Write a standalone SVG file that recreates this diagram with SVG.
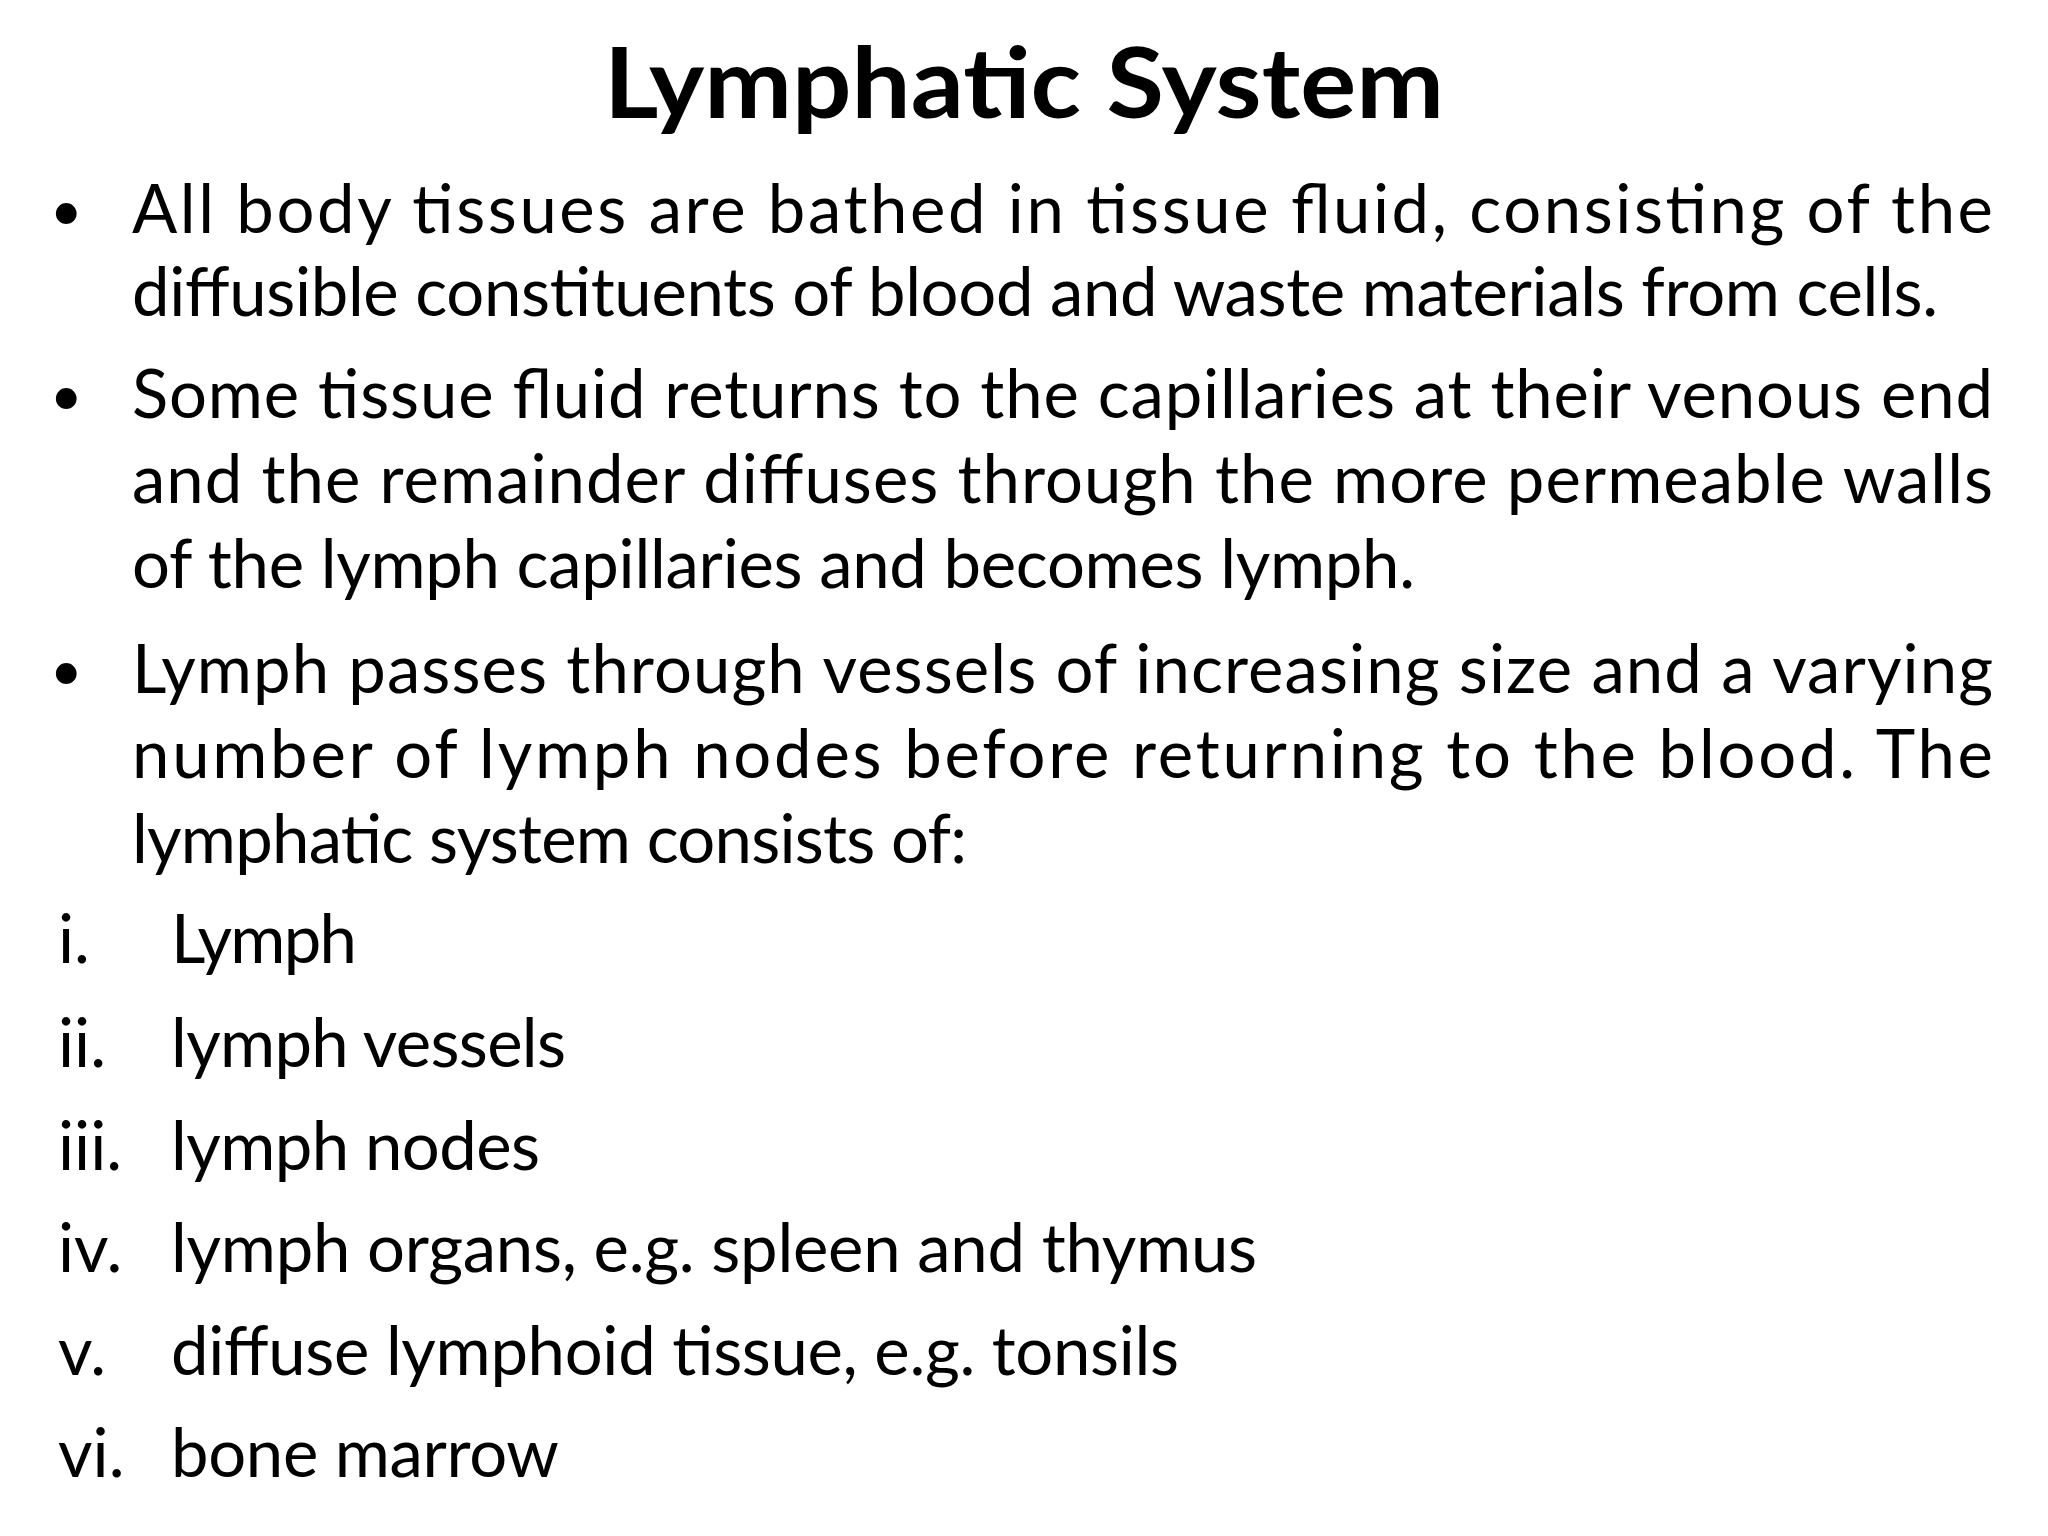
<svg xmlns="http://www.w3.org/2000/svg" width="2048" height="1536" viewBox="0 0 2048 1536">
<style>
text{font-family:Lato,"Open Sans","Liberation Sans",sans-serif;fill:#000}
.b{font-size:67px}
.d{font-size:56px}
.t{font-size:97px;font-weight:bold}
</style>
<rect width="2048" height="1536" fill="#fff"/>
<g id="title"><text class="t" x="604" y="118" textLength="840" lengthAdjust="spacingAndGlyphs">Lymphatic System</text></g>
<g id="bullets">
<text class="d" x="50" y="230">•</text>
<text class="b" x="132" y="233" textLength="1861" lengthAdjust="spacing">All body tissues are bathed in tissue fluid, consisting of the</text>
<text class="b" x="132" y="316" textLength="1806" lengthAdjust="spacing">diffusible constituents of blood and waste materials from cells.</text>
<text class="d" x="50" y="415">•</text>
<text class="b" x="132" y="418" textLength="1861" lengthAdjust="spacing">Some tissue fluid returns to the capillaries at their venous end</text>
<text class="b" x="132" y="503" textLength="1861" lengthAdjust="spacing">and the remainder diffuses through the more permeable walls</text>
<text class="b" x="132" y="588" textLength="1283" lengthAdjust="spacing">of the lymph capillaries and becomes lymph.</text>
<text class="d" x="50" y="690">•</text>
<text class="b" x="132" y="693" textLength="1861" lengthAdjust="spacing">Lymph passes through vessels of increasing size and a varying</text>
<text class="b" x="132" y="778" textLength="1861" lengthAdjust="spacing">number of lymph nodes before returning to the blood. The</text>
<text class="b" x="132" y="863" textLength="835" lengthAdjust="spacing">lymphatic system consists of:</text>
</g>
<g id="list">
<text class="b" x="58" y="963">i.</text><text class="b" x="171" y="963" textLength="186" lengthAdjust="spacing">Lymph</text>
<text class="b" x="58" y="1067">ii.</text><text class="b" x="171" y="1067" textLength="395" lengthAdjust="spacing">lymph vessels</text>
<text class="b" x="58" y="1170">iii.</text><text class="b" x="171" y="1170" textLength="369" lengthAdjust="spacing">lymph nodes</text>
<text class="b" x="58" y="1272">iv.</text><text class="b" x="171" y="1272" textLength="1086" lengthAdjust="spacing">lymph organs, e.g. spleen and thymus</text>
<text class="b" x="58" y="1375">v.</text><text class="b" x="171" y="1375" textLength="1008" lengthAdjust="spacing">diffuse lymphoid tissue, e.g. tonsils</text>
<text class="b" x="58" y="1477">vi.</text><text class="b" x="171" y="1477" textLength="388" lengthAdjust="spacing">bone marrow</text>
</g>
</svg>
